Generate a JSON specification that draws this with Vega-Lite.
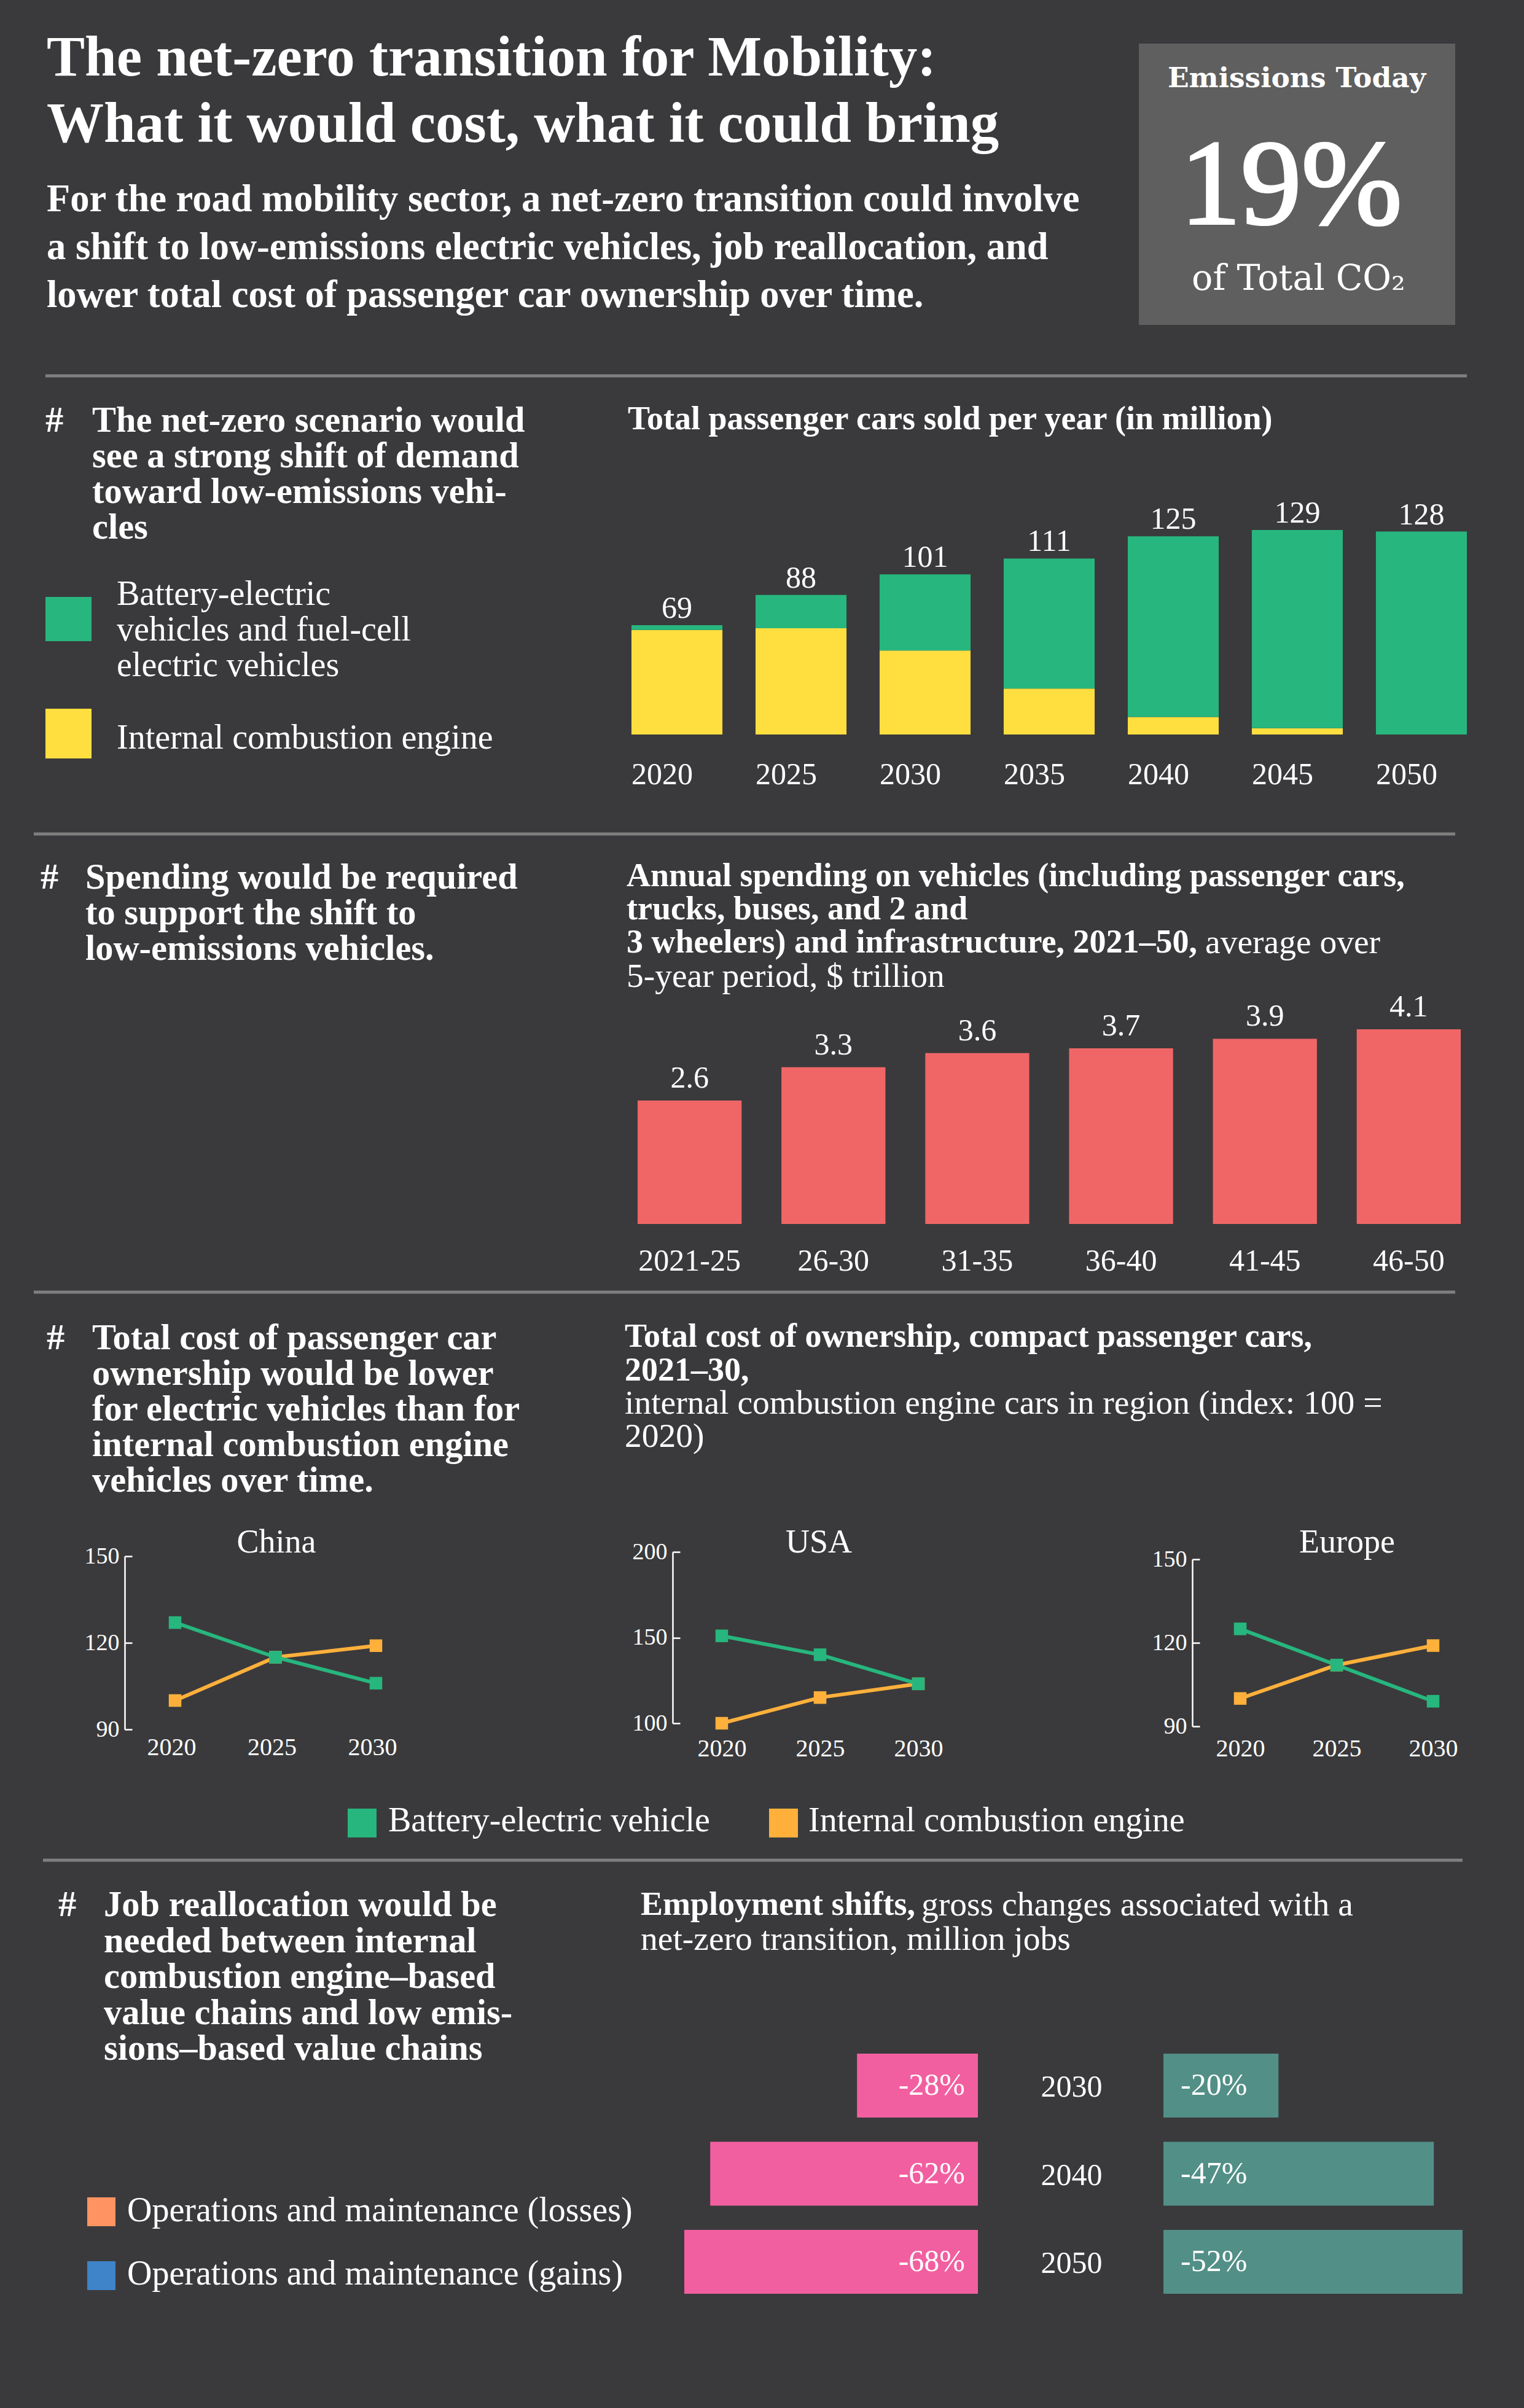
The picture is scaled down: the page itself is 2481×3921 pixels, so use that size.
{"$schema":"https://vega.github.io/schema/vega-lite/v6.json","width":2481,"height":3921,"padding":0,"autosize":"none","background":"#3a3a3c",
"config":{"view":{"stroke":null},"text":{"font":"Liberation Serif","color":"#ffffff","align":"left","baseline":"middle"},
"axis":{"grid":false,"labelFont":"Liberation Serif","labelColor":"#ffffff","labelOverlap":false,"labelBound":false,"labelFlush":false,"title":null,"domain":false,"ticks":false,"labelAngle":0},
"style":{"big":{"fontSize":93,"fontWeight":"bold"},"sub":{"fontSize":62.5,"fontWeight":"bold"},"hd":{"fontSize":58.4,"fontWeight":"bold"},"ct":{"fontSize":54,"fontWeight":"bold"},"rg":{"fontSize":55.5},"lg":{"fontSize":56},"val":{"fontSize":50},"tt":{"fontSize":54,"align":"center"}}},
"resolve":{"scale":{"x":"independent","y":"independent","color":"independent"},"axis":{"x":"independent","y":"independent"}},
"layer":[
{"data":{"values":[{"item":"rule"}]},"mark":{"type":"rule","color":"#7f7f7f","strokeWidth":5},"encoding":{"x":{"datum":0,"type":"quantitative","scale":{"domain":[0,1],"range":[74,2388]},"axis":null},"x2":{"datum":1},"y":{"datum":0,"type":"quantitative","scale":{"domain":[0,1],"range":[612,613]},"axis":null}}},
{"data":{"values":[{"item":"rule"}]},"mark":{"type":"rule","color":"#7f7f7f","strokeWidth":5},"encoding":{"x":{"datum":0,"type":"quantitative","scale":{"domain":[0,1],"range":[55,2369]},"axis":null},"x2":{"datum":1},"y":{"datum":0,"type":"quantitative","scale":{"domain":[0,1],"range":[1358,1359]},"axis":null}}},
{"data":{"values":[{"item":"rule"}]},"mark":{"type":"rule","color":"#7f7f7f","strokeWidth":5},"encoding":{"x":{"datum":0,"type":"quantitative","scale":{"domain":[0,1],"range":[55,2369]},"axis":null},"x2":{"datum":1},"y":{"datum":0,"type":"quantitative","scale":{"domain":[0,1],"range":[2104,2105]},"axis":null}}},
{"data":{"values":[{"item":"rule"}]},"mark":{"type":"rule","color":"#7f7f7f","strokeWidth":5},"encoding":{"x":{"datum":0,"type":"quantitative","scale":{"domain":[0,1],"range":[70,2381]},"axis":null},"x2":{"datum":1},"y":{"datum":0,"type":"quantitative","scale":{"domain":[0,1],"range":[3029,3030]},"axis":null}}},

{"data":{"values":[{"item":"box"}]},"mark":{"type":"rect","color":"#5f5f5f"},"encoding":{"x":{"datum":0,"type":"quantitative","scale":{"domain":[0,1],"range":[1854,2369]},"axis":null},"x2":{"datum":1},"y":{"datum":0,"type":"quantitative","scale":{"domain":[0,1],"range":[71,529]},"axis":null},"y2":{"datum":1}}},
{"data":{"values":[{"item":"swatch"}]},"mark":{"type":"rect","color":"#27b67e"},"encoding":{"x":{"datum":0,"type":"quantitative","scale":{"domain":[0,1],"range":[74,149]},"axis":null},"x2":{"datum":1},"y":{"datum":0,"type":"quantitative","scale":{"domain":[0,1],"range":[972,1044]},"axis":null},"y2":{"datum":1}}},
{"data":{"values":[{"item":"swatch"}]},"mark":{"type":"rect","color":"#ffde40"},"encoding":{"x":{"datum":0,"type":"quantitative","scale":{"domain":[0,1],"range":[74,149]},"axis":null},"x2":{"datum":1},"y":{"datum":0,"type":"quantitative","scale":{"domain":[0,1],"range":[1154,1235]},"axis":null},"y2":{"datum":1}}},
{"data":{"values":[{"item":"swatch"}]},"mark":{"type":"rect","color":"#27b67e"},"encoding":{"x":{"datum":0,"type":"quantitative","scale":{"domain":[0,1],"range":[566,613]},"axis":null},"x2":{"datum":1},"y":{"datum":0,"type":"quantitative","scale":{"domain":[0,1],"range":[2945,2992]},"axis":null},"y2":{"datum":1}}},
{"data":{"values":[{"item":"swatch"}]},"mark":{"type":"rect","color":"#ffb03b"},"encoding":{"x":{"datum":0,"type":"quantitative","scale":{"domain":[0,1],"range":[1252,1299]},"axis":null},"x2":{"datum":1},"y":{"datum":0,"type":"quantitative","scale":{"domain":[0,1],"range":[2945,2992]},"axis":null},"y2":{"datum":1}}},
{"data":{"values":[{"item":"swatch"}]},"mark":{"type":"rect","color":"#ff9361"},"encoding":{"x":{"datum":0,"type":"quantitative","scale":{"domain":[0,1],"range":[142,188]},"axis":null},"x2":{"datum":1},"y":{"datum":0,"type":"quantitative","scale":{"domain":[0,1],"range":[3578,3625]},"axis":null},"y2":{"datum":1}}},
{"data":{"values":[{"item":"swatch"}]},"mark":{"type":"rect","color":"#3f83c8"},"encoding":{"x":{"datum":0,"type":"quantitative","scale":{"domain":[0,1],"range":[142,188]},"axis":null},"x2":{"datum":1},"y":{"datum":0,"type":"quantitative","scale":{"domain":[0,1],"range":[3682,3729]},"axis":null},"y2":{"datum":1}}},

{"data":{"values":[{"line":0,"text":"The net-zero transition for Mobility:"},{"line":1,"text":"What it would cost, what it could bring"}]},"mark":{"type":"text","style":"big"},"encoding":{"x":{"datum":0,"type":"quantitative","scale":{"domain":[0,1],"range":[76,77]},"axis":null},"y":{"field":"line","type":"quantitative","scale":{"domain":[0,1],"range":[95,203]},"axis":null},"text":{"field":"text"}}},
{"data":{"values":[{"line":0,"text":"For the road mobility sector, a net-zero transition could involve"},{"line":1,"text":"a shift to low-emissions electric  vehicles, job reallocation, and"},{"line":2,"text":"lower total cost of passenger car ownership over time."}]},"mark":{"type":"text","style":"sub"},"encoding":{"x":{"datum":0,"type":"quantitative","scale":{"domain":[0,1],"range":[76,77]},"axis":null},"y":{"field":"line","type":"quantitative","scale":{"domain":[0,1],"range":[325,403]},"axis":null},"text":{"field":"text"}}},
{"data":{"values":[{"line":0,"text":"Emissions Today"}]},"mark":{"type":"text","font":"DejaVu Serif","fontWeight":"bold","fontSize":45.5,"align":"center"},"encoding":{"x":{"datum":0,"type":"quantitative","scale":{"domain":[0,1],"range":[2111,2112]},"axis":null},"y":{"field":"line","type":"quantitative","scale":{"domain":[0,1],"range":[128,129]},"axis":null},"text":{"field":"text"}}},
{"data":{"values":[{"line":0,"text":"19%"}]},"mark":{"type":"text","fontSize":197,"align":"center","stroke":"#ffffff","strokeWidth":4},"encoding":{"x":{"datum":0,"type":"quantitative","scale":{"domain":[0,1],"range":[2102,2103]},"axis":null},"y":{"field":"line","type":"quantitative","scale":{"domain":[0,1],"range":[305,306]},"axis":null},"text":{"field":"text"}}},
{"data":{"values":[{"line":0,"text":"of Total CO₂"}]},"mark":{"type":"text","font":"DejaVu Serif","fontSize":57,"align":"center"},"encoding":{"x":{"datum":0,"type":"quantitative","scale":{"domain":[0,1],"range":[2114,2115]},"axis":null},"y":{"field":"line","type":"quantitative","scale":{"domain":[0,1],"range":[455,456]},"axis":null},"text":{"field":"text"}}},

{"data":{"values":[{"line":0,"text":"#"}]},"mark":{"type":"text","style":"hd"},"encoding":{"x":{"datum":0,"type":"quantitative","scale":{"domain":[0,1],"range":[74,75]},"axis":null},"y":{"field":"line","type":"quantitative","scale":{"domain":[0,1],"range":[685,686]},"axis":null},"text":{"field":"text"}}},
{"data":{"values":[{"line":0,"text":"The net-zero scenario would"},{"line":1,"text":"see a strong shift of demand"},{"line":2,"text":"toward low-emissions vehi-"},{"line":3,"text":"cles"}]},"mark":{"type":"text","style":"hd"},"encoding":{"x":{"datum":0,"type":"quantitative","scale":{"domain":[0,1],"range":[150,151]},"axis":null},"y":{"field":"line","type":"quantitative","scale":{"domain":[0,1],"range":[685,743]},"axis":null},"text":{"field":"text"}}},
{"data":{"values":[{"line":0,"text":"Battery-electric"},{"line":1,"text":"vehicles and fuel-cell"},{"line":2,"text":"electric vehicles"}]},"mark":{"type":"text","style":"lg"},"encoding":{"x":{"datum":0,"type":"quantitative","scale":{"domain":[0,1],"range":[190,191]},"axis":null},"y":{"field":"line","type":"quantitative","scale":{"domain":[0,1],"range":[968,1026]},"axis":null},"text":{"field":"text"}}},
{"data":{"values":[{"line":0,"text":"Internal combustion engine"}]},"mark":{"type":"text","style":"lg"},"encoding":{"x":{"datum":0,"type":"quantitative","scale":{"domain":[0,1],"range":[190,191]},"axis":null},"y":{"field":"line","type":"quantitative","scale":{"domain":[0,1],"range":[1202,1203]},"axis":null},"text":{"field":"text"}}},
{"data":{"values":[{"line":0,"text":"Total passenger cars sold per year (in million)"}]},"mark":{"type":"text","style":"ct"},"encoding":{"x":{"datum":0,"type":"quantitative","scale":{"domain":[0,1],"range":[1022,1023]},"axis":null},"y":{"field":"line","type":"quantitative","scale":{"domain":[0,1],"range":[683,684]},"axis":null},"text":{"field":"text"}}},

{"data":{"values":[{"year":"2020","powertrain":"ICE","cars":66},{"year":"2020","powertrain":"BEV","cars":3},{"year":"2025","powertrain":"ICE","cars":67},{"year":"2025","powertrain":"BEV","cars":21},{"year":"2030","powertrain":"ICE","cars":53},{"year":"2030","powertrain":"BEV","cars":48},{"year":"2035","powertrain":"ICE","cars":29},{"year":"2035","powertrain":"BEV","cars":82},{"year":"2040","powertrain":"ICE","cars":11},{"year":"2040","powertrain":"BEV","cars":114},{"year":"2045","powertrain":"ICE","cars":4},{"year":"2045","powertrain":"BEV","cars":125},{"year":"2050","powertrain":"ICE","cars":0},{"year":"2050","powertrain":"BEV","cars":128}]},
"encoding":{"x":{"field":"year","type":"ordinal","scale":{"type":"band","range":[1028,2388],"paddingInner":0.267,"paddingOuter":0},"axis":{"orient":"bottom","offset":-2725,"labelFontSize":50,"labelPadding":65,"labelBaseline":"middle","labelAlign":"left","labelOffset":-74}}},
"layer":[
{"mark":"bar","encoding":{"y":{"field":"cars","type":"quantitative","stack":"zero","scale":{"domain":[0,129],"range":[1196,863],"nice":false},"axis":null},"color":{"field":"powertrain","type":"nominal","scale":{"domain":["BEV","ICE"],"range":["#27b67e","#ffde40"]},"legend":null}}},
{"transform":[{"aggregate":[{"op":"sum","field":"cars","as":"total"}],"groupby":["year"]}],"mark":{"type":"text","style":"val","align":"center","dy":-27},"encoding":{"y":{"field":"total","type":"quantitative","scale":{"domain":[0,129],"range":[1196,863],"nice":false},"axis":null},"text":{"field":"total","type":"quantitative"}}}
]},

{"data":{"values":[{"line":0,"text":"#"}]},"mark":{"type":"text","style":"hd"},"encoding":{"x":{"datum":0,"type":"quantitative","scale":{"domain":[0,1],"range":[66,67]},"axis":null},"y":{"field":"line","type":"quantitative","scale":{"domain":[0,1],"range":[1429,1430]},"axis":null},"text":{"field":"text"}}},
{"data":{"values":[{"line":0,"text":"Spending would be required"},{"line":1,"text":"to support the shift to"},{"line":2,"text":"low-emissions vehicles."}]},"mark":{"type":"text","style":"hd"},"encoding":{"x":{"datum":0,"type":"quantitative","scale":{"domain":[0,1],"range":[139,140]},"axis":null},"y":{"field":"line","type":"quantitative","scale":{"domain":[0,1],"range":[1429,1487]},"axis":null},"text":{"field":"text"}}},
{"data":{"values":[{"line":0,"text":"Annual spending on vehicles (including passenger cars,"},{"line":1,"text":"trucks, buses, and 2 and"},{"line":2,"text":"3 wheelers) and infrastructure, 2021–50,"}]},"mark":{"type":"text","style":"ct"},"encoding":{"x":{"datum":0,"type":"quantitative","scale":{"domain":[0,1],"range":[1020,1021]},"axis":null},"y":{"field":"line","type":"quantitative","scale":{"domain":[0,1],"range":[1427,1481]},"axis":null},"text":{"field":"text"}}},
{"data":{"values":[{"line":0,"text":"average over"}]},"mark":{"type":"text","style":"rg"},"encoding":{"x":{"datum":0,"type":"quantitative","scale":{"domain":[0,1],"range":[1962,1963]},"axis":null},"y":{"field":"line","type":"quantitative","scale":{"domain":[0,1],"range":[1535,1536]},"axis":null},"text":{"field":"text"}}},
{"data":{"values":[{"line":0,"text":"5-year period, $ trillion"}]},"mark":{"type":"text","style":"rg"},"encoding":{"x":{"datum":0,"type":"quantitative","scale":{"domain":[0,1],"range":[1020,1021]},"axis":null},"y":{"field":"line","type":"quantitative","scale":{"domain":[0,1],"range":[1590,1591]},"axis":null},"text":{"field":"text"}}},

{"data":{"values":[{"period":"2021-25","spending":2.6},{"period":"26-30","spending":3.3},{"period":"31-35","spending":3.6},{"period":"36-40","spending":3.7},{"period":"41-45","spending":3.9},{"period":"46-50","spending":4.1}]},
"encoding":{"x":{"field":"period","type":"ordinal","sort":null,"scale":{"type":"band","range":[1038,2378],"paddingInner":0.277,"paddingOuter":0},"axis":{"orient":"bottom","offset":-1928,"labelFontSize":50,"labelPadding":60,"labelBaseline":"middle"}},"y":{"field":"spending","type":"quantitative","scale":{"domain":[0,4.1],"range":[1993,1676],"nice":false},"axis":null}},
"layer":[{"mark":{"type":"bar","color":"#f06666"}},{"mark":{"type":"text","style":"val","align":"center","dy":-36},"encoding":{"text":{"field":"spending","type":"quantitative","format":".1f"}}}]},

{"data":{"values":[{"line":0,"text":"#"}]},"mark":{"type":"text","style":"hd"},"encoding":{"x":{"datum":0,"type":"quantitative","scale":{"domain":[0,1],"range":[76,77]},"axis":null},"y":{"field":"line","type":"quantitative","scale":{"domain":[0,1],"range":[2179,2180]},"axis":null},"text":{"field":"text"}}},
{"data":{"values":[{"line":0,"text":"Total cost of passenger car"},{"line":1,"text":"ownership would be lower"},{"line":2,"text":"for electric vehicles than for"},{"line":3,"text":"internal combustion engine"},{"line":4,"text":"vehicles over time."}]},"mark":{"type":"text","style":"hd"},"encoding":{"x":{"datum":0,"type":"quantitative","scale":{"domain":[0,1],"range":[150,151]},"axis":null},"y":{"field":"line","type":"quantitative","scale":{"domain":[0,1],"range":[2179,2237]},"axis":null},"text":{"field":"text"}}},
{"data":{"values":[{"line":0,"text":"Total cost of ownership, compact passenger cars,"},{"line":1,"text":"2021–30,"}]},"mark":{"type":"text","style":"ct"},"encoding":{"x":{"datum":0,"type":"quantitative","scale":{"domain":[0,1],"range":[1017,1018]},"axis":null},"y":{"field":"line","type":"quantitative","scale":{"domain":[0,1],"range":[2177,2232]},"axis":null},"text":{"field":"text"}}},
{"data":{"values":[{"line":0,"text":"internal combustion engine cars in region (index: 100 ="},{"line":1,"text":"2020)"}]},"mark":{"type":"text","style":"rg"},"encoding":{"x":{"datum":0,"type":"quantitative","scale":{"domain":[0,1],"range":[1017,1018]},"axis":null},"y":{"field":"line","type":"quantitative","scale":{"domain":[0,1],"range":[2285,2339]},"axis":null},"text":{"field":"text"}}},
{"data":{"values":[{"line":0,"text":"China"}]},"mark":{"type":"text","style":"tt"},"encoding":{"x":{"datum":0,"type":"quantitative","scale":{"domain":[0,1],"range":[450,451]},"axis":null},"y":{"field":"line","type":"quantitative","scale":{"domain":[0,1],"range":[2512,2513]},"axis":null},"text":{"field":"text"}}},
{"data":{"values":[{"line":0,"text":"USA"}]},"mark":{"type":"text","style":"tt"},"encoding":{"x":{"datum":0,"type":"quantitative","scale":{"domain":[0,1],"range":[1333,1334]},"axis":null},"y":{"field":"line","type":"quantitative","scale":{"domain":[0,1],"range":[2512,2513]},"axis":null},"text":{"field":"text"}}},
{"data":{"values":[{"line":0,"text":"Europe"}]},"mark":{"type":"text","style":"tt"},"encoding":{"x":{"datum":0,"type":"quantitative","scale":{"domain":[0,1],"range":[2193,2194]},"axis":null},"y":{"field":"line","type":"quantitative","scale":{"domain":[0,1],"range":[2512,2513]},"axis":null},"text":{"field":"text"}}},

{"data":{"values":[{"year":"2020","series":"ICE","index":100},{"year":"2025","series":"ICE","index":115},{"year":"2030","series":"ICE","index":119},{"year":"2020","series":"BEV","index":127},{"year":"2025","series":"BEV","index":115},{"year":"2030","series":"BEV","index":106}]},
"encoding":{"x":{"field":"year","type":"ordinal","scale":{"type":"point","range":[285,612],"padding":0},"axis":{"orient":"bottom","offset":-1105,"labelFontSize":40,"labelPadding":29,"labelBaseline":"middle","labelOffset":-6}},"y":{"field":"index","type":"quantitative","scale":{"domain":[90,150],"range":[2816,2534],"nice":false},"axis":{"orient":"left","offset":-203,"values":[90,120,150],"domain":true,"domainColor":"#ffffff","domainWidth":2.5,"ticks":true,"tickColor":"#ffffff","tickSize":-12,"tickWidth":2.5,"labelFontSize":38,"labelPadding":21}},"color":{"field":"series","type":"nominal","scale":{"domain":["BEV","ICE"],"range":["#27b67e","#ffb03b"]},"legend":null}},
"layer":[{"mark":{"type":"line","strokeWidth":6}},{"mark":{"type":"square","size":420,"opacity":1}}]},

{"data":{"values":[{"year":"2020","series":"ICE","index":100},{"year":"2025","series":"ICE","index":115},{"year":"2030","series":"ICE","index":123},{"year":"2020","series":"BEV","index":151},{"year":"2025","series":"BEV","index":140},{"year":"2030","series":"BEV","index":123}]},
"encoding":{"x":{"field":"year","type":"ordinal","scale":{"type":"point","range":[1175,1495],"padding":0},"axis":{"orient":"bottom","offset":-1115,"labelFontSize":40,"labelPadding":41,"labelBaseline":"middle"}},"y":{"field":"index","type":"quantitative","scale":{"domain":[100,200],"range":[2806,2527],"nice":false},"axis":{"orient":"left","offset":-1095,"values":[100,150,200],"domain":true,"domainColor":"#ffffff","domainWidth":2.5,"ticks":true,"tickColor":"#ffffff","tickSize":-12,"tickWidth":2.5,"labelFontSize":38,"labelPadding":21}},"color":{"field":"series","type":"nominal","scale":{"domain":["BEV","ICE"],"range":["#27b67e","#ffb03b"]},"legend":null}},
"layer":[{"mark":{"type":"line","strokeWidth":6}},{"mark":{"type":"square","size":420,"opacity":1}}]},

{"data":{"values":[{"year":"2020","series":"ICE","index":100},{"year":"2025","series":"ICE","index":112},{"year":"2030","series":"ICE","index":119},{"year":"2020","series":"BEV","index":125},{"year":"2025","series":"BEV","index":112},{"year":"2030","series":"BEV","index":99}]},
"encoding":{"x":{"field":"year","type":"ordinal","scale":{"type":"point","range":[2019,2333],"padding":0},"axis":{"orient":"bottom","offset":-1110,"labelFontSize":40,"labelPadding":36,"labelBaseline":"middle"}},"y":{"field":"index","type":"quantitative","scale":{"domain":[90,150],"range":[2811,2539],"nice":false},"axis":{"orient":"left","offset":-1941,"values":[90,120,150],"domain":true,"domainColor":"#ffffff","domainWidth":2.5,"ticks":true,"tickColor":"#ffffff","tickSize":-12,"tickWidth":2.5,"labelFontSize":38,"labelPadding":21}},"color":{"field":"series","type":"nominal","scale":{"domain":["BEV","ICE"],"range":["#27b67e","#ffb03b"]},"legend":null}},
"layer":[{"mark":{"type":"line","strokeWidth":6}},{"mark":{"type":"square","size":420,"opacity":1}}]},

{"data":{"values":[{"line":0,"text":"Battery-electric vehicle"}]},"mark":{"type":"text","style":"lg"},"encoding":{"x":{"datum":0,"type":"quantitative","scale":{"domain":[0,1],"range":[632,633]},"axis":null},"y":{"field":"line","type":"quantitative","scale":{"domain":[0,1],"range":[2965,2966]},"axis":null},"text":{"field":"text"}}},
{"data":{"values":[{"line":0,"text":"Internal combustion engine"}]},"mark":{"type":"text","style":"lg"},"encoding":{"x":{"datum":0,"type":"quantitative","scale":{"domain":[0,1],"range":[1316,1317]},"axis":null},"y":{"field":"line","type":"quantitative","scale":{"domain":[0,1],"range":[2965,2966]},"axis":null},"text":{"field":"text"}}},

{"data":{"values":[{"line":0,"text":"#"}]},"mark":{"type":"text","style":"hd"},"encoding":{"x":{"datum":0,"type":"quantitative","scale":{"domain":[0,1],"range":[95,96]},"axis":null},"y":{"field":"line","type":"quantitative","scale":{"domain":[0,1],"range":[3102,3103]},"axis":null},"text":{"field":"text"}}},
{"data":{"values":[{"line":0,"text":"Job reallocation would be"},{"line":1,"text":"needed between internal"},{"line":2,"text":"combustion engine–based"},{"line":3,"text":"value chains and low emis-"},{"line":4,"text":"sions–based value chains"}]},"mark":{"type":"text","style":"hd"},"encoding":{"x":{"datum":0,"type":"quantitative","scale":{"domain":[0,1],"range":[169,170]},"axis":null},"y":{"field":"line","type":"quantitative","scale":{"domain":[0,1],"range":[3102,3160.5]},"axis":null},"text":{"field":"text"}}},
{"data":{"values":[{"line":0,"text":"Employment shifts,"}]},"mark":{"type":"text","style":"ct"},"encoding":{"x":{"datum":0,"type":"quantitative","scale":{"domain":[0,1],"range":[1043,1044]},"axis":null},"y":{"field":"line","type":"quantitative","scale":{"domain":[0,1],"range":[3102,3103]},"axis":null},"text":{"field":"text"}}},
{"data":{"values":[{"line":0,"text":"gross changes associated with a"}]},"mark":{"type":"text","style":"rg"},"encoding":{"x":{"datum":0,"type":"quantitative","scale":{"domain":[0,1],"range":[1500,1501]},"axis":null},"y":{"field":"line","type":"quantitative","scale":{"domain":[0,1],"range":[3102,3103]},"axis":null},"text":{"field":"text"}}},
{"data":{"values":[{"line":0,"text":"net-zero transition, million jobs"}]},"mark":{"type":"text","style":"rg"},"encoding":{"x":{"datum":0,"type":"quantitative","scale":{"domain":[0,1],"range":[1043,1044]},"axis":null},"y":{"field":"line","type":"quantitative","scale":{"domain":[0,1],"range":[3158,3159]},"axis":null},"text":{"field":"text"}}},
{"data":{"values":[{"line":0,"text":"Operations and maintenance (losses)"}]},"mark":{"type":"text","style":"lg"},"encoding":{"x":{"datum":0,"type":"quantitative","scale":{"domain":[0,1],"range":[207,208]},"axis":null},"y":{"field":"line","type":"quantitative","scale":{"domain":[0,1],"range":[3600,3601]},"axis":null},"text":{"field":"text"}}},
{"data":{"values":[{"line":0,"text":"Operations and maintenance (gains)"}]},"mark":{"type":"text","style":"lg"},"encoding":{"x":{"datum":0,"type":"quantitative","scale":{"domain":[0,1],"range":[207,208]},"axis":null},"y":{"field":"line","type":"quantitative","scale":{"domain":[0,1],"range":[3703,3704]},"axis":null},"text":{"field":"text"}}},

{"data":{"values":[{"year":"2030","share":-28,"label":"-28%"},{"year":"2040","share":-62,"label":"-62%"},{"year":"2050","share":-68,"label":"-68%"}]},
"encoding":{"y":{"field":"year","type":"ordinal","scale":{"type":"band","range":[3344,3735],"paddingInner":0.275,"paddingOuter":0},"axis":{"orient":"left","offset":-1744,"labelFontSize":50,"labelPadding":0,"labelAlign":"center","labelOffset":3}}},
"layer":[{"mark":{"type":"bar","color":"#f25fa0"},"encoding":{"x":{"field":"share","type":"quantitative","scale":{"domain":[0,-68],"range":[1592,1114],"nice":false},"axis":null}}},
{"mark":{"type":"text","style":"val","align":"right","dx":-21},"encoding":{"x":{"datum":0,"type":"quantitative","scale":{"domain":[0,-68],"range":[1592,1114],"nice":false},"axis":null},"text":{"field":"label"}}}]},

{"data":{"values":[{"year":"2030","share":-20,"label":"-20%"},{"year":"2040","share":-47,"label":"-47%"},{"year":"2050","share":-52,"label":"-52%"}]},
"encoding":{"y":{"field":"year","type":"ordinal","scale":{"type":"band","range":[3344,3735],"paddingInner":0.275,"paddingOuter":0},"axis":null}},
"layer":[{"mark":{"type":"bar","color":"#528f87"},"encoding":{"x":{"field":"share","type":"quantitative","scale":{"domain":[0,-52],"range":[1894,2381],"nice":false},"axis":null}}},
{"mark":{"type":"text","style":"val","align":"left","dx":28},"encoding":{"x":{"datum":0,"type":"quantitative","scale":{"domain":[0,-52],"range":[1894,2381],"nice":false},"axis":null},"text":{"field":"label"}}}]}
]}
